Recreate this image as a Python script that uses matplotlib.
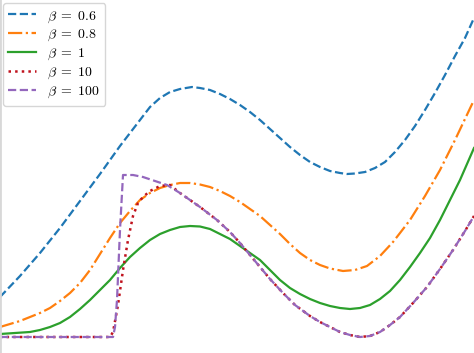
import matplotlib
matplotlib.use("Agg")
import matplotlib.pyplot as plt
import numpy as np

plt.rcParams['mathtext.fontset'] = 'cm'

# beta = 0.6
x_06 = [0, 20, 40, 60, 80, 100, 120, 140, 150, 160, 170, 180, 192, 200, 210, 220,
        230, 240, 250, 260, 270, 280, 290, 300, 310, 320, 330, 340, 347, 355, 365,
        375, 385, 395, 405, 415, 425, 435, 445, 455, 465, 474]
y_06 = [56, 77, 100, 125, 152, 179, 207, 233, 246, 255, 261, 264, 266, 265, 263, 259,
        254, 248, 241, 233, 224, 215, 206, 198, 191, 186, 182, 180, 179, 179.5, 181,
        185, 191, 201, 213, 227, 243, 260, 278, 297, 315, 335]

# beta = 0.8
x_08 = [0, 20, 40, 50, 60, 70, 80, 90, 100, 110, 120, 130, 140, 150, 160, 170,
        180, 190, 200, 210, 220, 230, 240, 250, 260, 270, 280, 290, 300, 310, 320,
        330, 343, 355, 367, 380, 393, 400, 410, 425, 440, 455, 474]
y_08 = [26, 32, 40, 45, 52, 60, 70, 83, 99, 115, 130, 142, 153, 160, 165, 168,
        170, 170, 168.5, 166, 162, 157, 151, 144, 137, 128, 119, 109, 100, 93, 88,
        84.5, 82, 83, 87, 97, 111, 120, 133, 157, 183, 213, 253]

# beta = 1
x_1 = [0, 15, 30, 40, 50, 60, 70, 80, 90, 100, 110, 120, 130, 140, 150, 160,
       170, 180, 190, 200, 210, 220, 230, 240, 250, 260, 270, 280, 290, 300, 310,
       320, 330, 340, 350, 360, 370, 380, 390, 400, 410, 420, 430, 440, 450, 460, 474]
y_1 = [19, 20, 21, 23, 26, 30, 36, 44, 53, 63, 73, 85, 96, 105, 113, 119,
       123, 126, 127, 126.5, 124, 119, 114, 107, 100, 93, 83, 73, 65, 59, 54,
       50, 47, 45, 44, 45, 48, 54, 62, 73, 86, 100, 115, 133, 153, 173, 205]

# beta = 10
x_10 = [0, 110, 113, 118, 123, 128, 133, 138, 143, 150, 160, 170, 180, 190, 200, 217,
        230, 240, 250, 260, 270, 283, 295, 310, 320, 330, 340, 350, 360, 370, 380,
        390, 400, 413, 427, 440, 453, 465, 474]
y_10 = [16, 16, 21, 48, 83, 113, 137, 150, 156, 162, 167, 168, 160, 153, 146, 133,
        121, 110, 98, 86, 74, 60, 48, 37, 31, 26, 21, 18, 16, 17, 21,
        28, 36, 50, 66, 84, 103, 122, 137]

# beta = 100
x_100 = [0, 113, 115, 117, 120, 123, 133, 143, 155, 167, 180, 190, 200, 217, 230, 240,
         250, 260, 270, 283, 295, 310, 320, 330, 340, 350, 360, 370, 380, 390, 400,
         413, 427, 440, 453, 465, 474]
y_100 = [16, 16, 26, 53, 123, 178, 178, 176, 172, 168, 160, 153, 146, 133, 121, 110,
         98, 86, 74, 60, 48, 37, 31, 26, 21, 18, 16, 17, 21, 28, 36,
         50, 66, 84, 103, 122, 137]

fig = plt.figure(figsize=(4.74, 3.53), dpi=100)
ax = fig.add_axes([0, 0, 1, 1])

lw = 1.6
ax.plot(x_06, y_06, '--', color='C0', lw=lw, label=r'$\beta\;=\;0.6$')
ax.plot(x_08, y_08, '-.', color='C1', lw=lw, label=r'$\beta\;=\;0.8$')
ax.plot(x_1, y_1, '-', color='C2', lw=lw, label=r'$\beta\;=\;1$')
ax.plot(x_10, y_10, ':', color='#c0121d', lw=lw + 0.2, label=r'$\beta\;=\;10$')
ax.plot(x_100, y_100, '--', color='C4', lw=lw, label=r'$\beta\;=\;100$')

ax.set_xlim(0, 474)
ax.set_ylim(0, 353)
ax.set_xticks([])
ax.set_yticks([])
for s in ['top', 'right', 'bottom']:
    ax.spines[s].set_visible(False)
ax.spines['left'].set_color('#d8d8d8')
ax.spines['left'].set_linewidth(2)

ax.legend(loc='upper left', fontsize=10, borderaxespad=0.2, labelspacing=0.2)

fig.savefig('out.png', dpi=100)
